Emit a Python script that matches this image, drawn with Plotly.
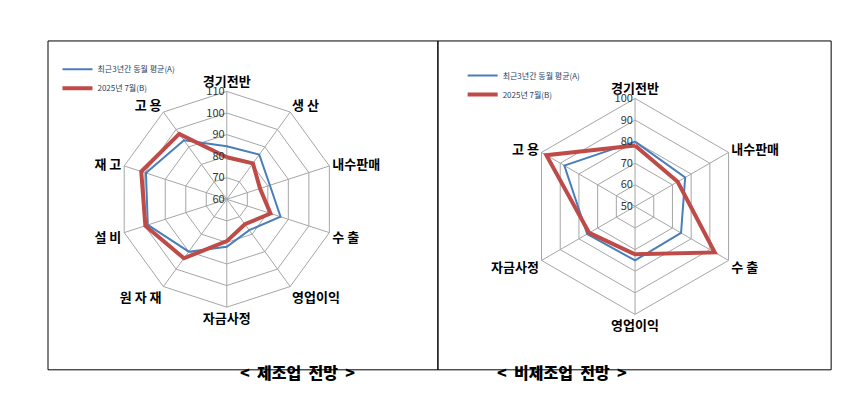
import plotly.graph_objects as go

# 제조업
m_cats = ["경기전반", "생 산", "내수판매", "수 출", "영업이익", "자금사정", "원 자 재", "설 비", "재 고", "고 용"]
m_avg = [84.6, 85.6, 81.0, 86.2, 77.7, 82.0, 90.0, 98.5, 99.4, 93.8]
m_cur = [79.5, 80.6, 76.2, 81.3, 74.3, 79.4, 93.8, 99.7, 101.7, 97.5]
m_ticks = [60, 70, 80, 90, 100, 110]

# 비제조업
n_cats = ["경기전반", "내수판매", "수 출", "영업이익", "자금사정", "고 용"]
n_avg = [80.0, 76.8, 74.6, 75.0, 75.6, 87.8]
n_cur = [78.2, 72.8, 92.6, 72.2, 74.5, 97.4]
n_ticks = [50, 60, 70, 80, 90, 100]

names = ["최근3년간 동월 평균(A)", "2025년 7월(B)"]
BLUE, RED = "#4A7EBB", "#BE4B48"
FONT = "Noto Sans CJK KR"

def closed(v):
    return list(v) + [v[0]]

fig = go.Figure()
for polar, cats, avg, cur, leg in [("polar", m_cats, m_avg, m_cur, "legend"),
                                    ("polar2", n_cats, n_avg, n_cur, "legend2")]:
    fig.add_trace(go.Scatterpolar(r=closed(avg), theta=closed(cats), mode="lines",
                                  line=dict(color=BLUE, width=2), name=names[0],
                                  subplot=polar, legend=leg))
    fig.add_trace(go.Scatterpolar(r=closed(cur), theta=closed(cats), mode="lines",
                                  line=dict(color=RED, width=4), name=names[1],
                                  subplot=polar, legend=leg))

def polar_cfg(dx, dy, ticks):
    return dict(
        domain=dict(x=dx, y=dy), gridshape="linear", bgcolor="white",
        angularaxis=dict(direction="clockwise", rotation=90, linecolor="#A6A6A6",
                         gridcolor="#A6A6A6", showline=True,
                         tickfont=dict(family=FONT, size=13, color="black", weight="bold"),
                         ticks=""),
        radialaxis=dict(range=[ticks[0], ticks[-1]], tickvals=ticks, angle=90,
                        side="counterclockwise", showline=False, gridcolor="#A6A6A6",
                        tickfont=dict(family=FONT, size=11, color="#333"), ticks="",
                        tickangle=90),
    )

fig.update_layout(
    width=853, height=407, margin=dict(l=0, r=0, t=0, b=0),
    paper_bgcolor="white", plot_bgcolor="white",
    font=dict(family=FONT),
    polar=polar_cfg([0.13, 0.383], [0.265, 0.795], m_ticks),
    polar2=polar_cfg([0.6085, 0.8617], [0.247, 0.778], n_ticks),
    legend=dict(x=0.058, y=0.885, xanchor="left", yanchor="top", bgcolor="rgba(0,0,0,0)",
                font=dict(size=8, family=FONT), tracegroupgap=4, itemwidth=30),
    legend2=dict(x=0.533, y=0.87, xanchor="left", yanchor="top", bgcolor="rgba(0,0,0,0)",
                 font=dict(size=8, family=FONT), tracegroupgap=4, itemwidth=30),
    shapes=[
        dict(type="rect", xref="paper", yref="paper", x0=0.0469, x1=0.504, y0=0.111, y1=0.919,
             line=dict(color="black", width=1)),
        dict(type="rect", xref="paper", yref="paper", x0=0.504, x1=0.965, y0=0.111, y1=0.919,
             line=dict(color="black", width=1)),
    ],
    annotations=[
        dict(text="&lt;  제조업  전망  &gt;", x=0.27, y=0.071, xref="paper", yref="paper",
             showarrow=False, font=dict(size=16, color="black", family=FONT, weight=900)),
        dict(text="&lt;  비제조업  전망  &gt;", x=0.728, y=0.071, xref="paper", yref="paper",
             showarrow=False, font=dict(size=16, color="black", family=FONT, weight=900)),
    ],
)
fig.write_html("out.html")
